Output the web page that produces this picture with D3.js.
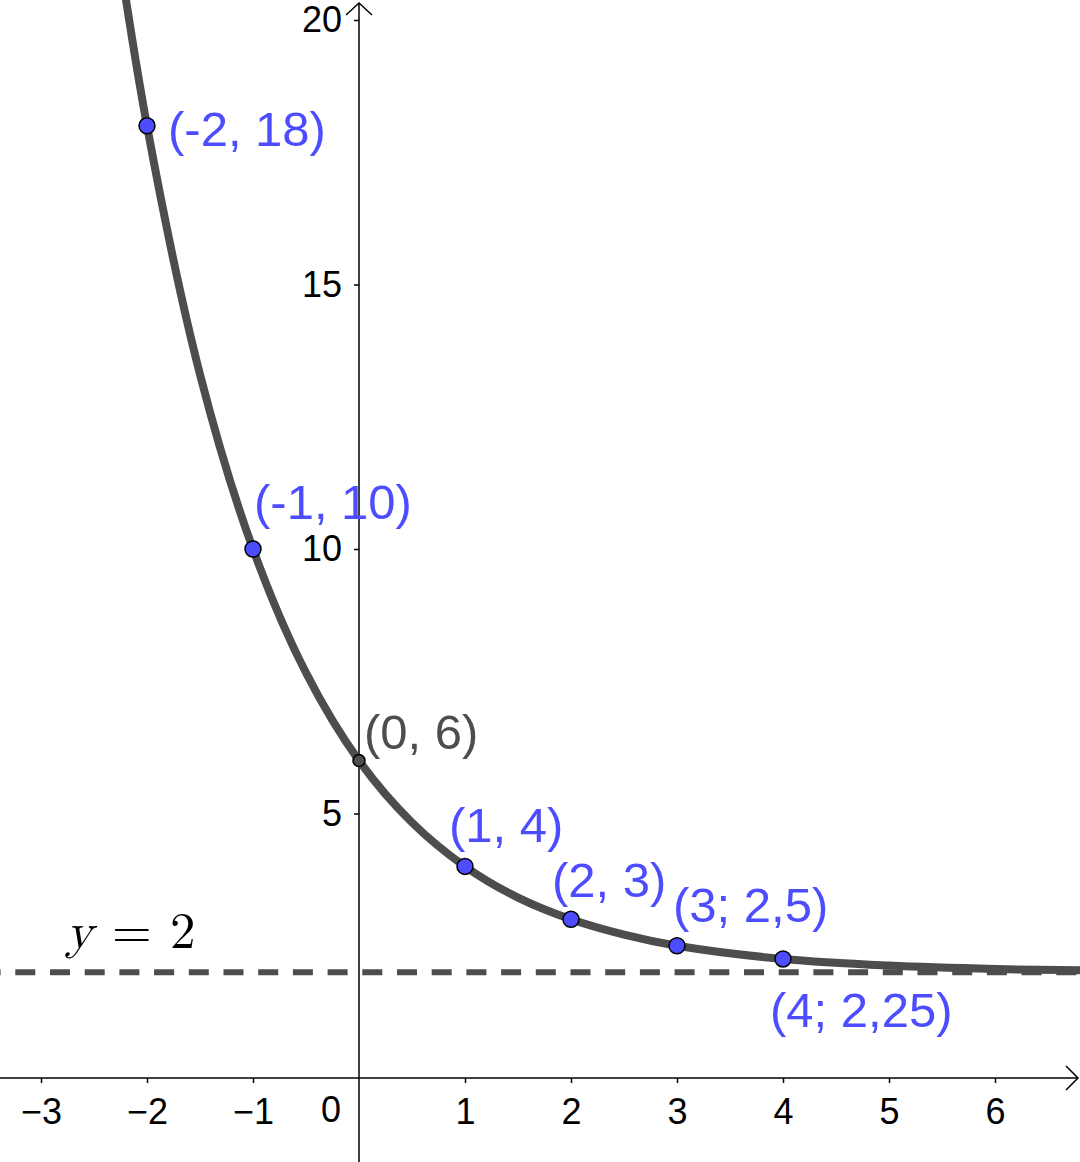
<!DOCTYPE html>
<html>
<head>
<meta charset="utf-8">
<script src="https://cdn.jsdelivr.net/npm/d3@7"></script>
<style>
  body { margin: 0; background: #fff; }
  svg { display: block; }
  .tick text { font-family: "Liberation Sans", Arial, sans-serif; font-size: 36px; fill: #000; }
  .lbl { font-family: "Liberation Sans", Arial, sans-serif; font-size: 49px; }
</style>
</head>
<body>
<div id="chart"></div>
<script>
// marked points on the graph
var pointX = [-2, -1, 0, 1, 2, 3, 4];
var pointY = [18, 10, 6, 4, 3, 2.5, 2.25];
var pointLabels = ['(-2, 18)', '(-1, 10)', '(0, 6)', '(1, 4)', '(2, 3)', '(3; 2,5)', '(4; 2,25)'];
// samples (includes the marked points)
var curveX = [-2.4, -2, -1.5, -1, -0.5, 0, 0.5, 1, 1.5, 2, 2.5, 3, 4, 5, 6, 7];
var curveY = [23.1, 18, 13.3, 10, 7.66, 6, 4.83, 4, 3.41, 3, 2.71, 2.5, 2.25, 2.125, 2.06, 2.03];
var asymptote = 2;
var xTicks = [-3, -2, -1, 1, 2, 3, 4, 5, 6];
var yTicks = [5, 10, 15, 20];

var _width = 1080, _height = 1162;
var blue = '#4d4dff', grey = '#4d4d4d';

var x = d3.scaleLinear().domain([-3, 6]).range([41, 995]);
var y = d3.scaleLinear().domain([0, 20]).range([1078, 20]);

var svg = d3.select('#chart').append('svg')
  .attr('width', _width)
  .attr('height', _height);

// axes (ticks + labels), domain drawn by hand below with arrows
svg.append('g')
  .attr('transform', 'translate(0,' + y(0) + ')')
  .call(d3.axisBottom(x).tickValues(xTicks).tickSize(5).tickPadding(15));
svg.append('g')
  .attr('transform', 'translate(' + x(0) + ',0)')
  .call(d3.axisLeft(y).tickValues(yTicks).tickSize(5).tickPadding(12));
svg.selectAll('.domain').remove();
svg.selectAll('.tick line').attr('stroke', '#000').attr('stroke-width', 1.5);

// origin label
svg.append('text')
  .attr('x', x(0) - 18).attr('y', y(0) + 44)
  .attr('text-anchor', 'end')
  .style('font-family', '"Liberation Sans", Arial, sans-serif')
  .style('font-size', '36px')
  .text('0');

// axis lines with open arrowheads
var axisStyle = function(sel) { sel.attr('stroke', '#000').attr('stroke-width', 1.5).attr('fill', 'none'); };
svg.append('line').attr('x1', 0).attr('x2', 1078).attr('y1', y(0)).attr('y2', y(0)).call(axisStyle);
svg.append('path').attr('d', 'M1066,' + (y(0) - 12) + 'L1078,' + y(0) + 'L1066,' + (y(0) + 12)).call(axisStyle);
svg.append('line').attr('x1', x(0)).attr('x2', x(0)).attr('y1', 3).attr('y2', _height).call(axisStyle);
svg.append('path').attr('d', 'M' + (x(0) - 13) + ',15L' + x(0) + ',3L' + (x(0) + 13) + ',15').call(axisStyle);

// asymptote y = 2
svg.append('line')
  .attr('x1', 0).attr('x2', _width)
  .attr('y1', y(asymptote)).attr('y2', y(asymptote))
  .attr('stroke', grey).attr('stroke-width', 6)
  .attr('stroke-dasharray', '20,14.7')
  .attr('stroke-dashoffset', 19.4);

var eq = svg.append('text')
  .attr('y', y(asymptote) - 24)
  .style('font-family', '"Latin Modern Math", "Liberation Serif", "DejaVu Serif", serif')
  .style('font-size', '51px');
eq.append('tspan').attr('x', 66).style('font-style', 'italic').text('y');
eq.append('tspan').attr('x', 112).text('=');
eq.append('tspan').attr('x', 170).text('2');

// the curve
var line = d3.line()
  .x(function(d) { return x(d[0]); })
  .y(function(d) { return y(d[1]); })
  .curve(d3.curveCatmullRom);
svg.append('path')
  .datum(d3.zip(curveX, curveY))
  .attr('d', line)
  .attr('fill', 'none')
  .attr('stroke', grey)
  .attr('stroke-width', 8);

// points and labels
var labelOffset = [[21, 20], [1, -30], [5, -12], [-16, -24], [-19, -22], [-4, -24], [-13, 68]];
var pts = d3.zip(pointX, pointY, pointLabels, labelOffset);
svg.selectAll('.pt')
  .data(pts)
  .enter()
  .append('circle')
  .classed('pt', true)
  .attr('cx', function(d) { return x(d[0]); })
  .attr('cy', function(d) { return y(d[1]); })
  .attr('r', function(d) { return d[0] === 0 ? 6 : 8; })
  .attr('fill', function(d) { return d[0] === 0 ? grey : blue; })
  .attr('stroke', '#000')
  .attr('stroke-width', 1.5);
svg.selectAll('.lbl')
  .data(pts)
  .enter()
  .append('text')
  .classed('lbl', true)
  .attr('x', function(d) { return x(d[0]) + d[3][0]; })
  .attr('y', function(d) { return y(d[1]) + d[3][1]; })
  .attr('fill', function(d) { return d[0] === 0 ? grey : blue; })
  .text(function(d) { return d[2]; });
</script>
</body>
</html>
